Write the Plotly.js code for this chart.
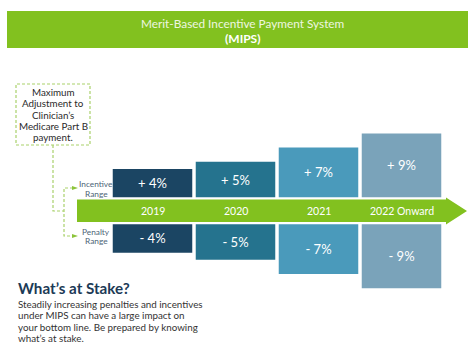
<!DOCTYPE html>
<html>
<head>
<meta charset="utf-8">
<script src="https://cdn.plot.ly/plotly-3.0.1.min.js"></script>
<style>html,body{margin:0;padding:0;background:#fff;}#chart{width:474px;height:353px;}</style>
</head>
<body>
<div id="chart"></div>
<script>
// ---- data ----
const years = ["2019", "2020", "2021", "2022 Onward"];
const incentive = [4, 5, 7, 9];
const penalty = [-4, -5, -7, -9];
const incentiveLabels = ["+ 4%", "+ 5%", "+ 7%", "+ 9%"];
const penaltyLabels = ["- 4%", "- 5%", "- 7%", "- 9%"];
const barColors = ["#1b4563", "#25738e", "#4a9abb", "#7aa3ba"];

const W = 474, H = 353;
const GAP = 1.9; // half-height of the timeline band, in % units
const px = x => x / W;
const py = y => 1 - y / H;
const FONT = "Lato, 'Open Sans', sans-serif";
const GREEN = "#82c11f";
const DASH = "#a9d16b";

const traces = [
  {
    type: "bar", x: years, y: incentive, base: GAP,
    marker: {color: barColors}, text: incentiveLabels,
    textposition: "inside", insidetextanchor: "middle",
    textfont: {color: "#ffffff", size: 13, family: FONT},
    hoverinfo: "skip", showlegend: false
  },
  {
    type: "bar", x: years, y: penalty, base: -GAP,
    marker: {color: barColors}, text: penaltyLabels,
    textposition: "inside", insidetextanchor: "middle",
    textfont: {color: "#ffffff", size: 13, family: FONT},
    hoverinfo: "skip", showlegend: false
  }
];

const shapes = [
  // header band
  {type: "rect", xref: "paper", yref: "paper", x0: px(7), x1: px(468), y0: py(48), y1: py(11),
   fillcolor: GREEN, line: {width: 0}, layer: "below"},
  // timeline arrow
  {type: "path", xref: "paper", yref: "paper", layer: "below",
   path: `M ${px(77)} ${py(199.5)} L ${px(446)} ${py(199.5)} L ${px(446)} ${py(197.5)} L ${px(467)} ${py(211)} L ${px(446)} ${py(224.5)} L ${px(446)} ${py(222)} L ${px(77)} ${py(222)} Z`,
   fillcolor: GREEN, line: {width: 0}},
  // dashed note box
  {type: "rect", xref: "paper", yref: "paper", x0: px(16), x1: px(90), y0: py(145), y1: py(84),
   line: {color: DASH, width: 1.2, dash: "3px,2px"}, fillcolor: "rgba(0,0,0,0)"},
  // connector from box
  {type: "path", xref: "paper", yref: "paper",
   path: `M ${px(53)} ${py(145)} L ${px(53)} ${py(211)} L ${px(64)} ${py(211)}`,
   line: {color: DASH, width: 1.2, dash: "3px,2px"}},
  // bracket
  {type: "path", xref: "paper", yref: "paper",
   path: `M ${px(73)} ${py(188)} L ${px(64)} ${py(188)} L ${px(64)} ${py(236)} L ${px(73)} ${py(236)}`,
   line: {color: DASH, width: 1.2, dash: "3px,2px"}},
  // arrow tips
  {type: "path", xref: "paper", yref: "paper",
   path: `M ${px(72)} ${py(186)} L ${px(78)} ${py(188)} L ${px(72)} ${py(190)} Z`,
   fillcolor: "#8cc43a", line: {width: 0}},
  {type: "path", xref: "paper", yref: "paper",
   path: `M ${px(72)} ${py(234)} L ${px(78)} ${py(236)} L ${px(72)} ${py(238)} Z`,
   fillcolor: "#8cc43a", line: {width: 0}}
];

const ann = [];
function txt(x, y, text, size, color, opts) {
  ann.push(Object.assign({xref: "paper", yref: "paper", x: px(x), y: py(y), text: text,
    showarrow: false, font: {size: size, color: color, family: FONT},
    xanchor: "center", yanchor: "middle"}, opts || {}));
}
// header
txt(243, 24, "Merit-Based Incentive Payment System", 11.8, "#eef6e0");
txt(243, 38, "<b>(MIPS)</b>", 12, "#ffffff");
// note box
const boxLines = ["Maximum", "Adjustment to", "Clinician\u2019s", "Medicare Part B", "payment."];
boxLines.forEach((s, i) => txt(53, 92 + i * 11.3, s, 9.8, "#2a2a2a"));
// range labels
txt(96, 184.5, "Incentive", 8.3, "#4d6577");
txt(96, 194, "Range", 8.3, "#4d6577");
txt(96, 231.5, "Penalty", 8.3, "#4d6577");
txt(96, 241, "Range", 8.3, "#4d6577");
// year labels on the timeline
years.forEach((yr, i) => ann.push({xref: "x", yref: "y", x: i, y: 0, text: yr, showarrow: false,
  font: {size: 10.5, color: "#ffffff", family: FONT}, xanchor: "center", yanchor: "middle"}));
// bottom text
txt(16, 288, "<b>What\u2019s at Stake?</b>", 15.2, "#1c3a56", {xanchor: "left"});
const bodyLines = ["Steadily increasing penalties and incentives", "under MIPS can have a large impact on",
  "your bottom line. Be prepared by knowing", "what\u2019s at stake."];
bodyLines.forEach((s, i) => txt(16, 303.5 + i * 11.6, s, 9.8, "#333333", {xanchor: "left"}));

const layout = {
  width: W, height: H,
  margin: {l: 0, r: 0, t: 0, b: 0, pad: 0},
  paper_bgcolor: "#ffffff", plot_bgcolor: "rgba(0,0,0,0)",
  barmode: "overlay", bargap: 0.042,
  xaxis: {type: "category", domain: [px(111), px(443)], range: [-0.5, 3.5],
          showgrid: false, zeroline: false, showticklabels: false, ticks: "", showline: false, fixedrange: true},
  yaxis: {domain: [0, 1], range: [-20.03, 29.69], showgrid: false, zeroline: false,
          showticklabels: false, ticks: "", showline: false, fixedrange: true},
  shapes: shapes,
  annotations: ann,
  showlegend: false
};

Plotly.newPlot("chart", traces, layout, {displayModeBar: false, staticPlot: true});
</script>
</body>
</html>
